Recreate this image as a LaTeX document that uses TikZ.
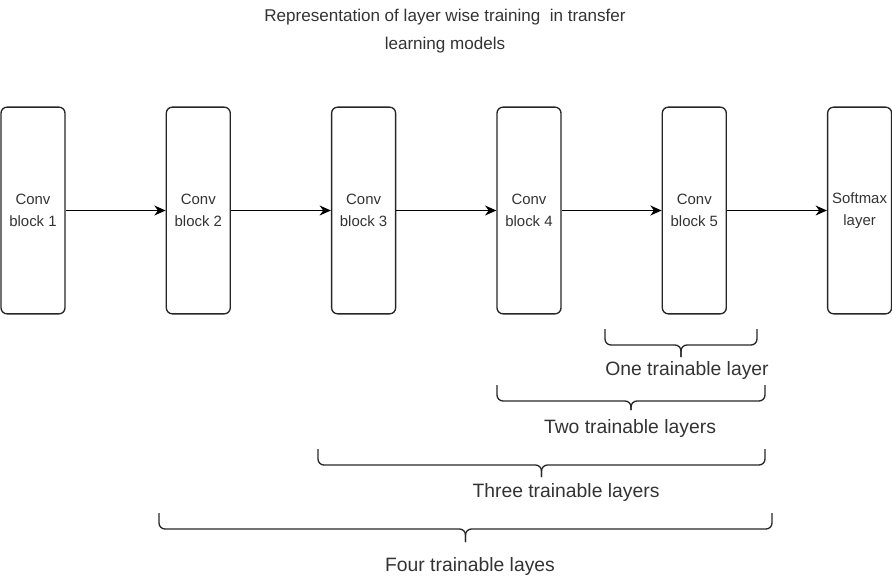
\documentclass[tikz,border=0pt]{standalone}
\usepackage{fontspec}
\setmainfont{Liberation Sans}
\usetikzlibrary{arrows.meta}

\tikzset{
  block/.style={draw=black!85, line width=1pt, rounded corners=4.5pt,
    minimum width=48pt, minimum height=155pt, inner sep=0pt, align=center,
    text=black!80, font=\fontsize{11.2}{16}\selectfont},
  flow/.style={draw=black, line width=1pt, -{Stealth[length=8.5pt,width=7.5pt]}},
  curly/.style={draw=black!85, line width=1pt, rounded corners=4.5pt},
  layers/.style={text=black!80, font=\fontsize{14.5}{17}\selectfont}
}

\begin{document}
\begin{tikzpicture}[x=0.75pt, y=-0.75pt]
  \useasboundingbox (0,0) rectangle (892,581);

  \node (title) at (445, 31) [align=center, text=black!80,
    font=\fontsize{12.8}{21}\selectfont]
    {Representation of layer wise training\ \ in transfer\\learning models};

  \node (c1) at ( 33.0, 210.5) [block] {Conv\\block 1};
  \node (c2) at (198.3, 210.5) [block] {Conv\\block 2};
  \node (c3) at (363.6, 210.5) [block] {Conv\\block 3};
  \node (c4) at (529.0, 210.5) [block] {Conv\\block 4};
  \node (c5) at (694.3, 210.5) [block] {Conv\\block 5};
  \node (sm) at (859.6, 210.5) [block] {Softmax\\layer};

  \draw [flow] (c1) -- (c2);
  \draw [flow] (c2) -- (c3);
  \draw [flow] (c3) -- (c4);
  \draw [flow] (c4) -- (c5);
  \draw [flow] (c5) -- (sm);

  % braces under the trainable blocks
  \draw [curly] (605, 329) -- (605, 345) -- (681, 345) -- (681, 357);
  \draw [curly] (757, 329) -- (757, 345) -- (681, 345) -- (681, 357);
  \draw [curly] (497, 385) -- (497, 401) -- (631, 401) -- (631, 410);
  \draw [curly] (765, 385) -- (765, 401) -- (631, 401) -- (631, 410);
  \draw [curly] (318, 449) -- (318, 465) -- (541.5, 465) -- (541.5, 477);
  \draw [curly] (765, 449) -- (765, 465) -- (541.5, 465) -- (541.5, 477);
  \draw [curly] (159, 513) -- (159, 529) -- (465.5, 529) -- (465.5, 542);
  \draw [curly] (772, 513) -- (772, 529) -- (465.5, 529) -- (465.5, 542);

  \node (one)   at (687, 370) [layers] {One trainable layer};
  \node (two)   at (630, 428) [layers] {Two trainable layers};
  \node (three) at (566, 492) [layers] {Three trainable layers};
  \node (four)  at (470, 566) [layers] {Four trainable layes};
\end{tikzpicture}
\end{document}
